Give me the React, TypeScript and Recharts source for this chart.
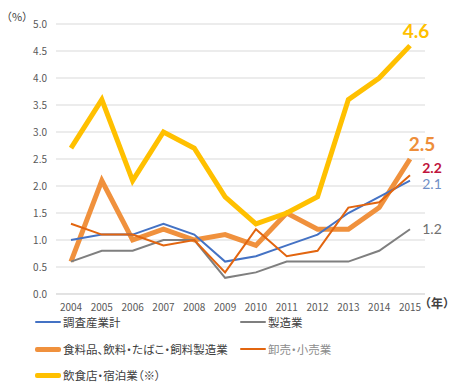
import React from "react";
import { LineChart, Line, XAxis, YAxis, CartesianGrid } from "recharts";

const years = ["2004", "2005", "2006", "2007", "2008", "2009", "2010", "2011", "2012", "2013", "2014", "2015"];
const total = [1.0, 1.1, 1.1, 1.3, 1.1, 0.6, 0.7, 0.9, 1.1, 1.5, 1.8, 2.1];
const manufacturing = [0.6, 0.8, 0.8, 1.0, 1.0, 0.3, 0.4, 0.6, 0.6, 0.6, 0.8, 1.2];
const food = [0.6, 2.1, 1.0, 1.2, 1.0, 1.1, 0.9, 1.5, 1.2, 1.2, 1.6, 2.5];
const retail = [1.3, 1.1, 1.1, 0.9, 1.0, 0.4, 1.2, 0.7, 0.8, 1.6, 1.7, 2.2];
const restaurant = [2.7, 3.6, 2.1, 3.0, 2.7, 1.8, 1.3, 1.5, 1.8, 3.6, 4.0, 4.6];
const yTicks = [0, 0.5, 1, 1.5, 2, 2.5, 3, 3.5, 4, 4.5, 5];

const data = years.map((y, i) => ({
  year: y,
  total: total[i],
  manufacturing: manufacturing[i],
  food: food[i],
  retail: retail[i],
  restaurant: restaurant[i],
}));

const FONT = '"Noto Sans CJK JP", "Noto Sans", sans-serif';
const NUMFONT = 'Lato, "Open Sans", sans-serif';

type S = {
  key: string;
  name: string;
  color: string;
  width: number;
  labelColor: string;
  labelSize: number;
  labelWeight: number;
  dx: number;
  dy: number;
  legendX: number;
  legendY: number;
  legendText: string;
};

const series: S[] = [
  { key: "total", name: "調査産業計", color: "#4472C4", width: 2, labelColor: "#6F8FC6", labelSize: 14, labelWeight: 400, dx: 22, dy: 3, legendX: 35, legendY: 322, legendText: "#404040" },
  { key: "manufacturing", name: "製造業", color: "#7F7F7F", width: 2, labelColor: "#707070", labelSize: 14, labelWeight: 400, dx: 22, dy: -1, legendX: 240, legendY: 322, legendText: "#404040" },
  { key: "food", name: "食料品、飲料・たばこ・飼料製造業", color: "#F0913D", width: 5, labelColor: "#EE8E3A", labelSize: 19, labelWeight: 700, dx: 12, dy: -16, legendX: 35, legendY: 349, legendText: "#404040" },
  { key: "retail", name: "卸売・小売業", color: "#E2650F", width: 2, labelColor: "#C0143C", labelSize: 14, labelWeight: 700, dx: 22, dy: -8, legendX: 240, legendY: 349, legendText: "#8C8C8C" },
  { key: "restaurant", name: "飲食店・宿泊業（※）", color: "#FFC000", width: 5, labelColor: "#FFC000", labelSize: 19, labelWeight: 700, dx: 6, dy: -15, legendX: 35, legendY: 375, legendText: "#404040" },
];

const order = ["food", "total", "manufacturing", "retail", "restaurant"];

const makeLabel = (s: S) => (props: any) => {
  const { x, y, index, value } = props;
  if (index !== years.length - 1) return null;
  return (
    <text
      x={x + s.dx}
      y={y + s.dy}
      textAnchor="middle"
      dominantBaseline="central"
      fill={s.labelColor}
      fontSize={s.labelSize}
      fontWeight={s.labelWeight}
      fontFamily={NUMFONT}
    >
      {Number(value).toFixed(1)}
    </text>
  );
};

export default function App() {
  const ordered = order.map((k) => series.find((s) => s.key === k)!);
  return (
    <div style={{ position: "fixed", left: 0, top: 0, width: 474, height: 392, background: "#fff", fontFamily: FONT }}>
      <LineChart width={474} height={392} data={data} margin={{ top: 24, right: 49, left: 0, bottom: 68 }}>
        <CartesianGrid vertical={false} stroke="#D9D9D9" strokeWidth={1} />
        <XAxis
          dataKey="year"
          height={30}
          padding={{ left: 15, right: 15 }}
          axisLine={{ stroke: "#D9D9D9" }}
          tickLine={false}
          tickMargin={4}
          tick={{ fontSize: 10, fill: "#595959", fontFamily: FONT }}
          interval={0}
        />
        <YAxis
          width={56}
          domain={[0, 5]}
          ticks={yTicks}
          axisLine={false}
          tickLine={false}
          tickSize={0}
          tickMargin={9}
          tickFormatter={(v: number) => v.toFixed(1)}
          tick={{ fontSize: 10, fill: "#595959", fontFamily: FONT }}
        />
        {ordered.map((s) => (
          <Line
            key={s.key}
            dataKey={s.key}
            name={s.name}
            stroke={s.color}
            strokeWidth={s.width}
            dot={false}
            activeDot={false}
            type="linear"
            isAnimationActive={false}
            label={makeLabel(s)}
            strokeLinejoin="miter"
          />
        ))}
        <text x={17} y={16} textAnchor="middle" dominantBaseline="central" fontSize={11} fill="#404040" fontFamily={FONT}>
          （%）
        </text>
        <text x={437} y={302} textAnchor="middle" dominantBaseline="central" fontSize={12} fontWeight={700} fill="#404040" fontFamily={FONT}>
          （年）
        </text>
      </LineChart>
      {series.map((s) => (
        <div
          key={s.key}
          style={{
            position: "absolute",
            left: s.legendX,
            top: s.legendY - 9,
            height: 18,
            display: "flex",
            alignItems: "center",
            whiteSpace: "nowrap",
          }}
        >
          <div style={{ width: 26, height: s.width === 5 ? 5 : 2.5, background: s.color, borderRadius: 2 }} />
          <span style={{ marginLeft: 2, fontSize: 11.5, color: s.legendText, fontFamily: FONT, fontFeatureSettings: '"palt"' }}>{s.name}</span>
        </div>
      ))}
    </div>
  );
}
